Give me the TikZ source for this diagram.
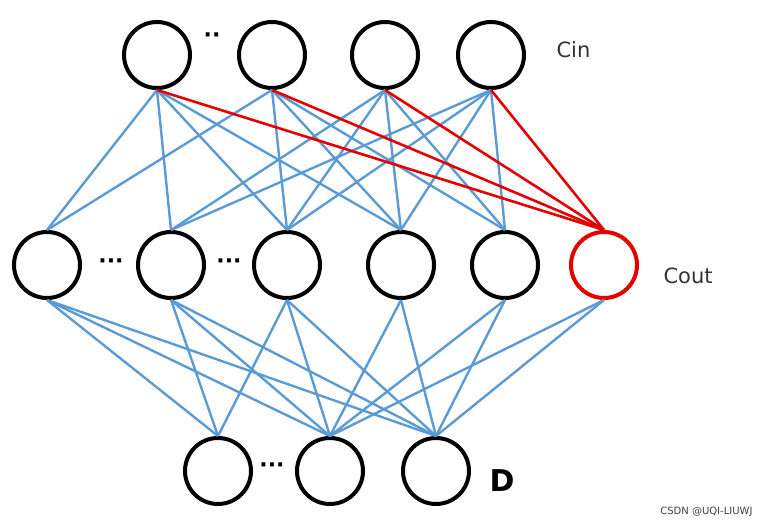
\documentclass[tikz,border=0pt]{standalone}
\usepackage{fontspec}
\setmainfont{DejaVu Sans}
\begin{document}
\begin{tikzpicture}[x=1pt,y=-1pt,
  neuron/.style={circle,draw=black,line width=4pt,minimum size=66pt,inner sep=0pt},
  redn/.style={neuron,draw=red!90!black},
  edge/.style={line width=2.4pt,color={rgb,255:red,91;green,155;blue,213}},
  redge/.style={draw=red!90!black,line width=2.6pt},
  dots/.style={font=\bfseries\fontsize{22}{24}\selectfont},
  lbl/.style={font=\fontsize{21}{24}\selectfont,text=black!80}]
\useasboundingbox (0,0) rectangle (768,529);
\node[neuron] (t1) at (157,55) {};
\node[neuron] (t2) at (272,55) {};
\node[neuron] (t3) at (385,55) {};
\node[neuron] (t4) at (491,55) {};
\node[neuron] (m1) at (47,265) {};
\node[neuron] (m2) at (171,265) {};
\node[neuron] (m3) at (287,265) {};
\node[neuron] (m4) at (401,265) {};
\node[neuron] (m5) at (505,265) {};
\node[redn] (m6) at (604,265) {};
\node[neuron] (b1) at (218,471) {};
\node[neuron] (b2) at (330,471) {};
\node[neuron] (b3) at (436,471) {};
\node[dots] (d1) at (212,38) {··};
\node[dots] (d2) at (111,264) {···};
\node[dots] (d3) at (229,264) {···};
\node[dots] (d4) at (272,468) {···};
\node[lbl,anchor=west] (cin) at (553,50) {Cin};
\node[lbl,anchor=west] (cout) at (660,276) {Cout};
\node[font=\bfseries\fontsize{30}{32}\selectfont,anchor=west] (dl) at (486,481) {D};
\node[font=\fontsize{10}{11}\selectfont,text=black!75,anchor=east] (wm) at (756,512) {CSDN @UQI-LIUWJ};
\foreach \a/\b in {t1/m1,t1/m2,t1/m3,t1/m4,t2/m1,t2/m3,t2/m4,t2/m5,t3/m2,t3/m3,t3/m4,t3/m5,t4/m2,t4/m3,t4/m4,t4/m5}
  \draw[edge] (\a.south) -- (\b.north);
\foreach \a in {t1,t2,t3,t4}
  \draw[redge] (\a.south) -- (m6.north);
\foreach \a/\b in {m1/b1,m1/b2,m1/b3,m2/b1,m2/b2,m2/b3,m3/b1,m3/b2,m3/b3,m4/b2,m4/b3,m5/b2,m5/b3,m6/b2,m6/b3}
  \draw[edge] (\a.south) -- (\b.north);
\end{tikzpicture}
\end{document}
